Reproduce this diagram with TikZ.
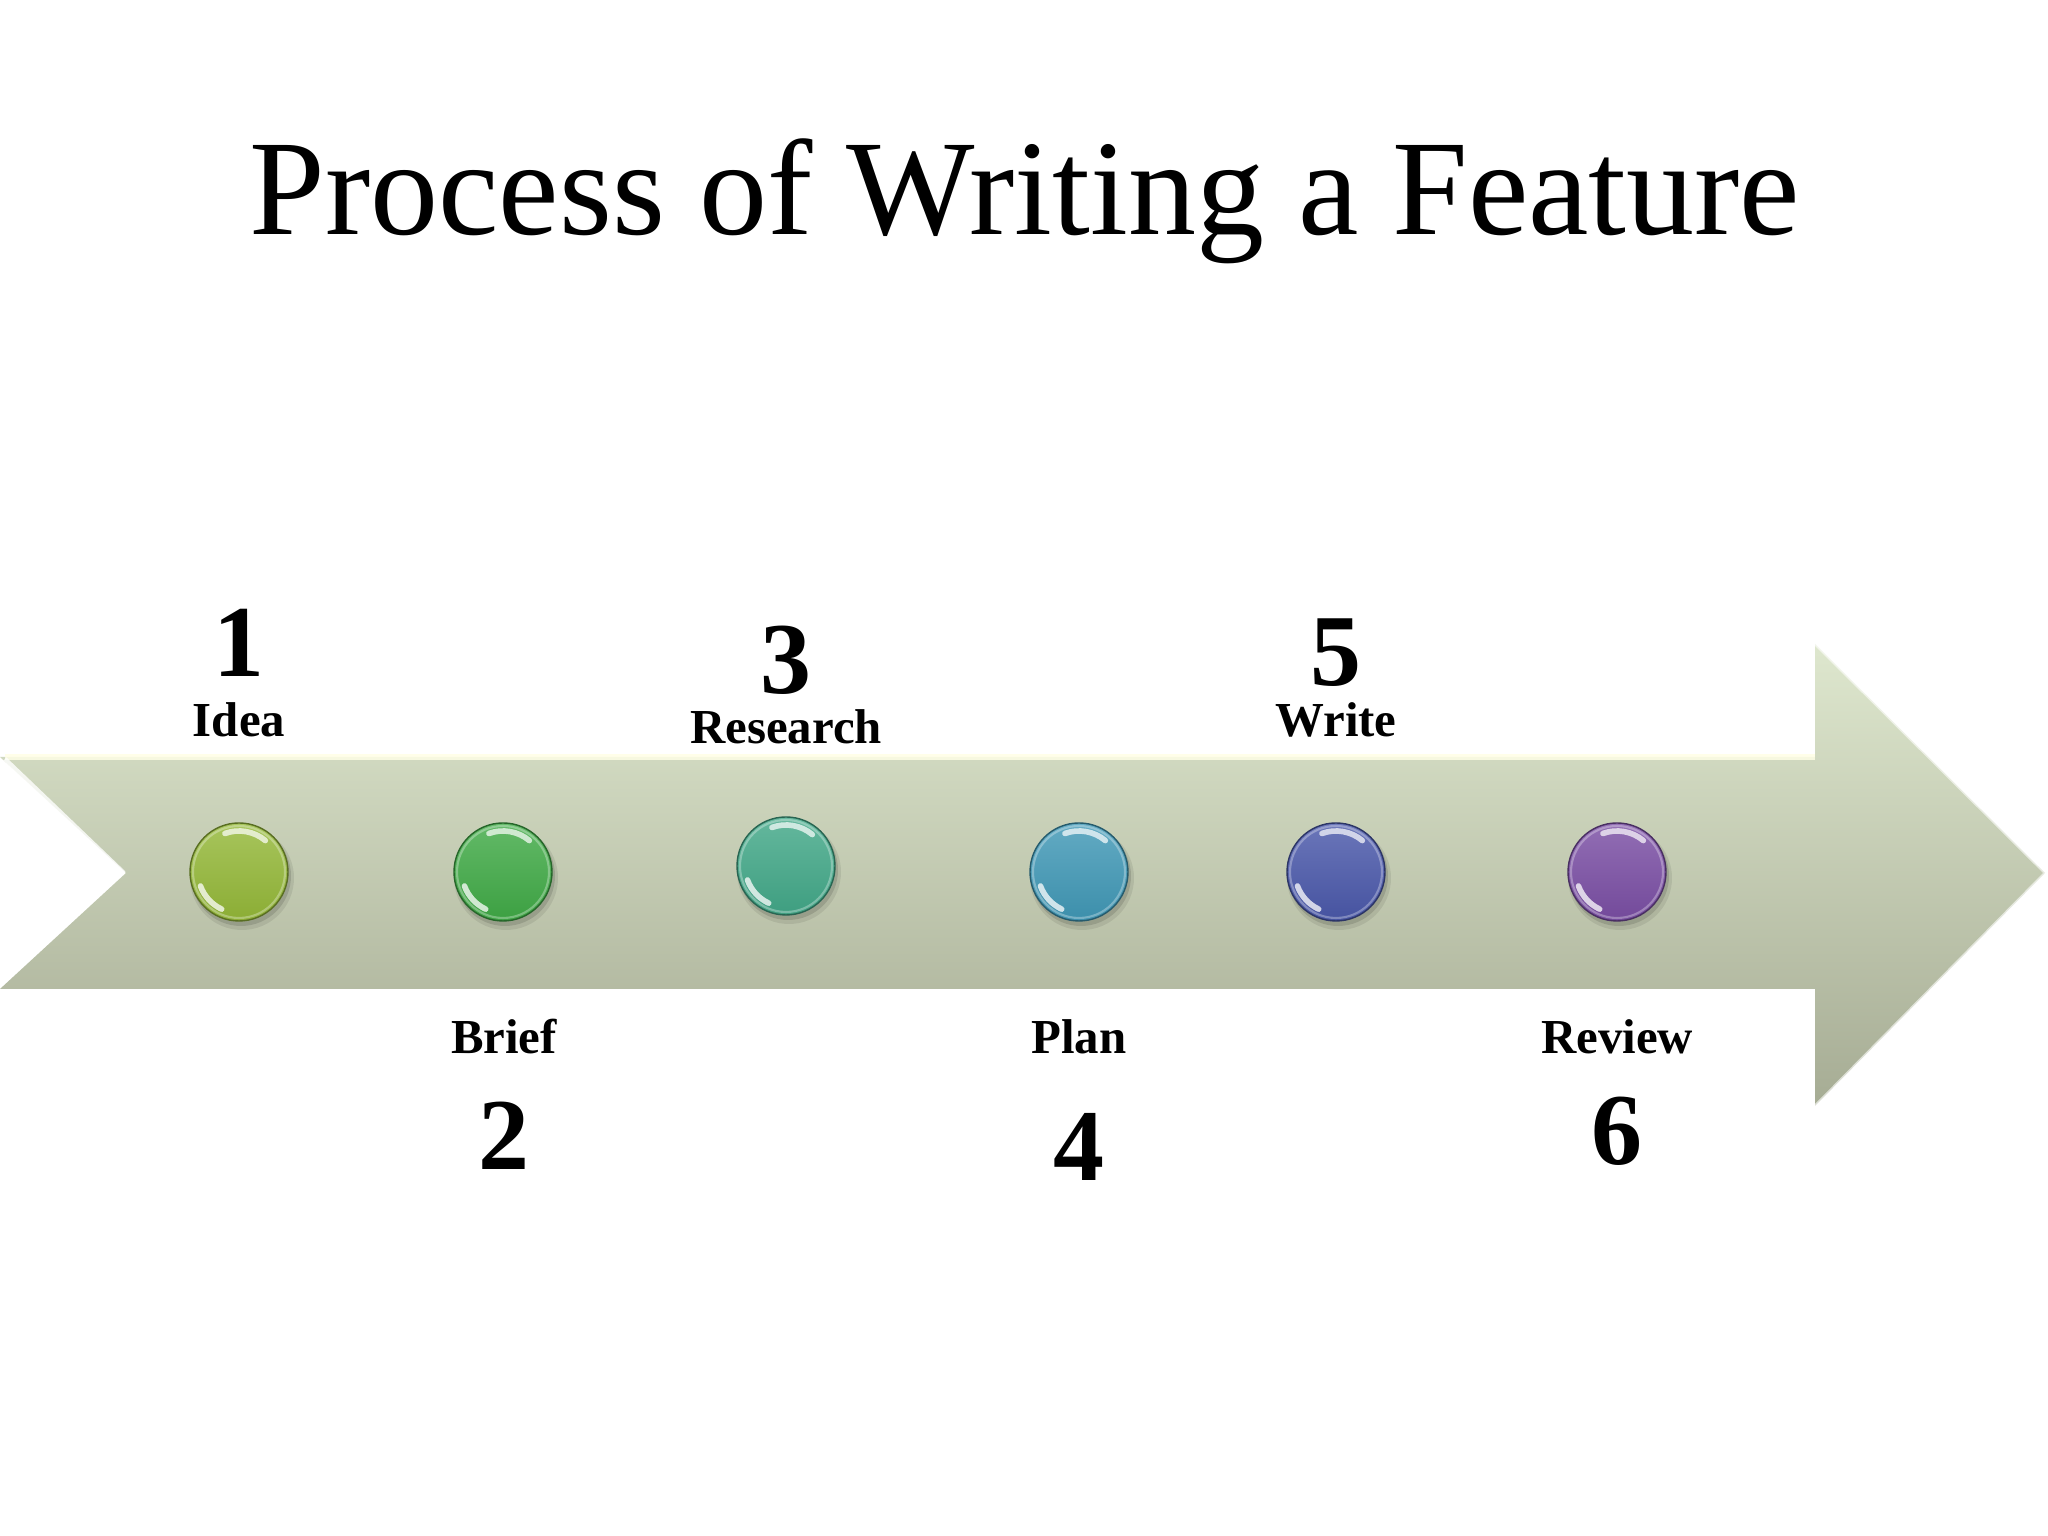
\documentclass[tikz,border=0pt]{standalone}
\usepackage{fontspec}
\setmainfont{Liberation Serif}
\usetikzlibrary{calc}
\definecolor{c1}{RGB}{148,184,56}
\definecolor{c2}{RGB}{64,170,70}
\definecolor{c3}{RGB}{66,168,136}
\definecolor{c4}{RGB}{64,152,182}
\definecolor{c5}{RGB}{74,88,170}
\definecolor{c6}{RGB}{122,78,164}
\definecolor{arrtop}{RGB}{222,231,206}
\definecolor{arrbot}{RGB}{166,172,148}
\tikzset{
  bead/.style={circle, minimum size=0.98cm, inner sep=0pt, top color=#1!82!white, bottom color=#1!94!black, draw=#1!60!black, line width=0.4pt},
  steplabel/.style={font=\bfseries\fontsize{13.9}{15}\selectfont, inner sep=0pt},
  stepnum/.style={font=\bfseries\fontsize{29}{31}\selectfont, inner sep=0pt},
}
\begin{document}
\begin{tikzpicture}
\useasboundingbox (0,0) rectangle (20.48,15.36);
\fill[white] (0,0) rectangle (20.48,15.36);
% title
\node[font=\fontsize{38.7}{40}\selectfont, anchor=base, inner sep=0pt] (title) at (10.25,13.01) {Process of Writing a Feature};
% arrow
\shade[top color=arrtop, bottom color=arrbot] (0,7.79) -- (18.15,7.79) -- (18.15,8.92) -- (20.45,6.63) -- (18.15,4.30) -- (18.15,5.47) -- (0,5.47) -- (1.26,6.63) -- cycle;
\draw[white!90!yellow, line width=1.6pt, opacity=0.85] (0.05,7.79) -- (18.15,7.79);
\draw[white, line width=1.2pt, opacity=0.8] (0.05,7.77) -- (1.24,6.63);
\draw[white, line width=0.8pt, opacity=0.6] (18.15,8.92) -- (20.45,6.63) -- (18.15,4.30);
% beads
\foreach \n/\x/\y/\c in {1/2.39/6.64/c1, 2/5.03/6.64/c2, 3/7.86/6.70/c3, 4/10.79/6.64/c4, 5/13.36/6.64/c5, 6/16.17/6.64/c6} {
  \fill[black, opacity=0.08] (\x+0.03,\y-0.06) circle (0.52);
  \fill[black, opacity=0.12] (\x+0.02,\y-0.04) circle (0.5);
  \node[bead=\c] (b\n) at (\x,\y) {};
  \draw[white, opacity=0.7, line width=1.6pt, line cap=round] ($(b\n.center)+(110:0.41)$) arc (110:50:0.41);
  \draw[white, opacity=0.75, line width=1.6pt, line cap=round] ($(b\n.center)+(200:0.41)$) arc (200:245:0.41);
  \draw[white, opacity=0.3, line width=0.6pt] (b\n.center) circle (0.46);
}
% labels above
\node[stepnum] (n1) at (2.39,8.93) {1};
\node[steplabel] (l1) at (2.39,8.16) {Idea};
\node[stepnum] (n3) at (7.86,8.76) {3};
\node[steplabel] (l3) at (7.86,8.09) {Research};
\node[stepnum] (n5) at (13.36,8.83) {5};
\node[steplabel] (l5) at (13.36,8.16) {Write};
% labels below
\node[steplabel] (l2) at (5.04,4.99) {Brief};
\node[stepnum] (n2) at (5.04,4.00) {2};
\node[steplabel] (l4) at (10.79,4.99) {Plan};
\node[stepnum] (n4) at (10.79,3.89) {4};
\node[steplabel] (l6) at (16.17,4.99) {Review};
\node[stepnum] (n6) at (16.17,4.05) {6};
\end{tikzpicture}
\end{document}
